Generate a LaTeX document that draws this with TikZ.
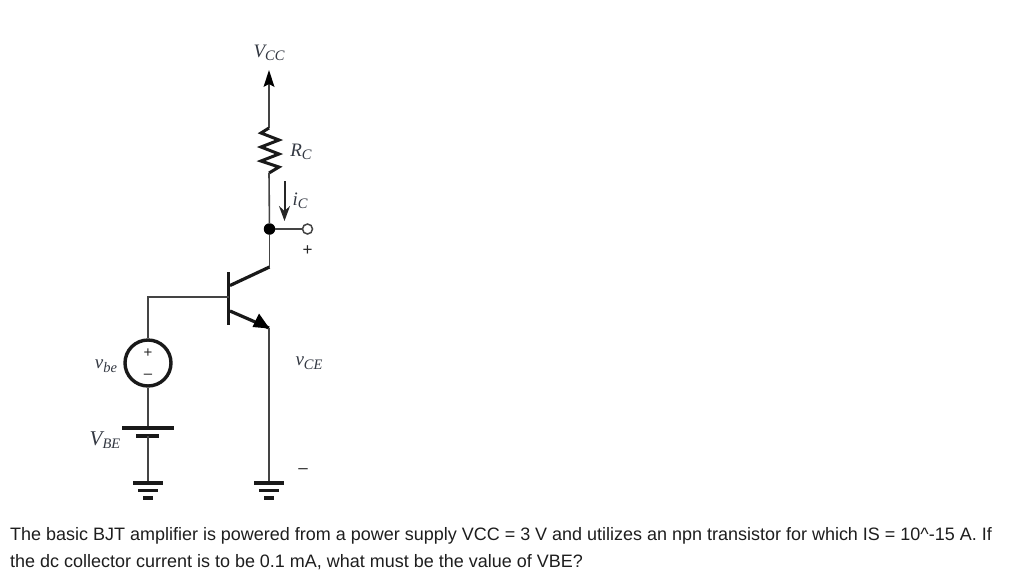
\documentclass[tikz,border=0pt]{standalone}
\usepackage{fontspec}
\setmainfont{Liberation Sans}
\newfontfamily\labelfont{Liberation Serif}
\usetikzlibrary{arrows.meta}
\definecolor{wire}{HTML}{444444}
\definecolor{lab}{HTML}{333842}
\definecolor{bodytext}{HTML}{1E1E1E}
\tikzset{
  x=1pt,y=-1pt,
  wirethin/.style={draw=wire,line width=1.6pt},
  wirethick/.style={draw=black!90,line width=3.2pt},
  plate/.style={draw=black!90,line width=3.2pt},
  mathlab/.style={inner sep=0pt,text=lab,font=\labelfont\itshape\fontsize{19}{22}\selectfont},
  signlab/.style={inner sep=0pt,text=black!85,font=\fontsize{17}{20}\selectfont},
  dotnode/.style={circle,fill=black,minimum size=11.5pt,inner sep=0pt},
  opennode/.style={circle,draw=wire,fill=white,line width=1.5pt,minimum size=10pt,inner sep=0pt},
  sourcenode/.style={circle,draw=black!90,line width=3.4pt,minimum size=46pt,inner sep=0pt},
  bodyline/.style={anchor=base west,inner sep=0pt,text=bodytext,font=\fontsize{17.98}{20}\selectfont}
}
\newcommand{\subl}[1]{\raisebox{-3.5pt}{\fontsize{14.5}{15}\selectfont #1}}
\newcommand{\drawground}[1]{%
  \draw[plate,line width=3.4pt] ([xshift=-15pt]#1) -- ([xshift=15pt]#1);
  \draw[plate,line width=3.4pt] ([xshift=-10pt,yshift=-7.5pt]#1) -- ([xshift=10pt,yshift=-7.5pt]#1);
  \draw[plate,line width=3.4pt] ([xshift=-5pt,yshift=-15pt]#1) -- ([xshift=5pt,yshift=-15pt]#1);}
\begin{document}
\begin{tikzpicture}
\useasboundingbox (0,0) rectangle (1024,576);
\fill[white] (0,0) rectangle (1024,576);
% named points
\coordinate (vcctip) at (269,70);
\coordinate (rtop) at (269,128);
\coordinate (rbot) at (269,173);
\node[dotnode] (junction) at (269.5,229) {};
\node[opennode] (out) at (307.5,229) {};
\coordinate (coltop) at (269.5,267);
\coordinate (colbar) at (230,285.5);
\coordinate (basebar) at (228.5,297);
\coordinate (basecorner) at (148,297);
\coordinate (emitbar) at (230,311);
\coordinate (emitend) at (269,328);
\coordinate (barT) at (228.5,272);
\coordinate (barB) at (228.5,325);
\node[sourcenode] (src) at (148,363) {};
\coordinate (battT) at (148,428);
\coordinate (battS) at (148,436);
\coordinate (gndA) at (148,483);
\coordinate (gndB) at (269,483);
\coordinate (arrT) at (284.5,181);
\coordinate (arrB) at (284.5,221);
% wires
\draw[wirethin] (rtop) -- (269,80);
\fill[black] (vcctip) -- (274.5,87) -- (269,84) -- (263.5,87) -- cycle;
\draw[draw=black!90,line width=3pt,line join=miter] (rtop) -- (261,133) -- (279,140) -- (261,147) -- (279,154) -- (261,161) -- (279,167) -- (rbot);
\draw[wirethin] (rbot) -- (junction);
\draw[wirethin] (junction) -- (out);
\draw[wirethin] (junction) -- (coltop);
\draw[wirethick] (coltop) -- (colbar);
\draw[wirethick,line width=3.6pt] (barT) -- (barB);
\draw[wirethin] (basebar) -- (basecorner) -- (src);
\draw[wirethick] (emitbar) -- (emitend);
\fill[black] (269.5,328.5) -- (252.5,327) -- (259,313.5) -- cycle;
\draw[wirethin] (emitend) -- (gndB);
\draw[wirethin] (src) -- (battT);
\draw[plate] (122,428) -- (174,428);
\draw[plate] (136,436) -- (159,436);
\draw[wirethin] (battS) -- (gndA);
\drawground{gndA}
\drawground{gndB}
\draw[draw=black!85,line width=2pt,-{Stealth[length=15pt,width=11pt,inset=5pt]}] (arrT) -- (arrB);
% labels
\node[mathlab] (lvcc) at (269,53) {V\subl{CC}};
\node[mathlab] (lrc) at (301,152) {R\subl{C}};
\node[mathlab] (lic) at (300,201) {i\subl{C}};
\node[signlab] (lplus) at (307.5,251) {+};
\node[signlab,font=\fontsize{15}{18}\selectfont] (splus) at (148,353) {+};
\node[signlab,font=\fontsize{15}{18}\selectfont] (sminus) at (148,376) {–};
\node[mathlab] (lvbe) at (106,366) {v\subl{be}};
\node[mathlab] (lvce) at (309,363) {v\subl{CE}};
\node[mathlab,font=\labelfont\itshape\fontsize{21}{22}\selectfont] (lVBE) at (105,440) {V\subl{BE}};
\node[signlab] (lminus) at (303,471) {–};
\node[bodyline] (l1) at (10,540.5) {The basic BJT amplifier is powered from a power supply VCC = 3 V and utilizes an npn transistor for which IS = 10\^{}-15 A. If};
\node[bodyline] (l2) at (10,567.5) {the dc collector current is to be 0.1 mA, what must be the value of VBE?};
\end{tikzpicture}
\end{document}
